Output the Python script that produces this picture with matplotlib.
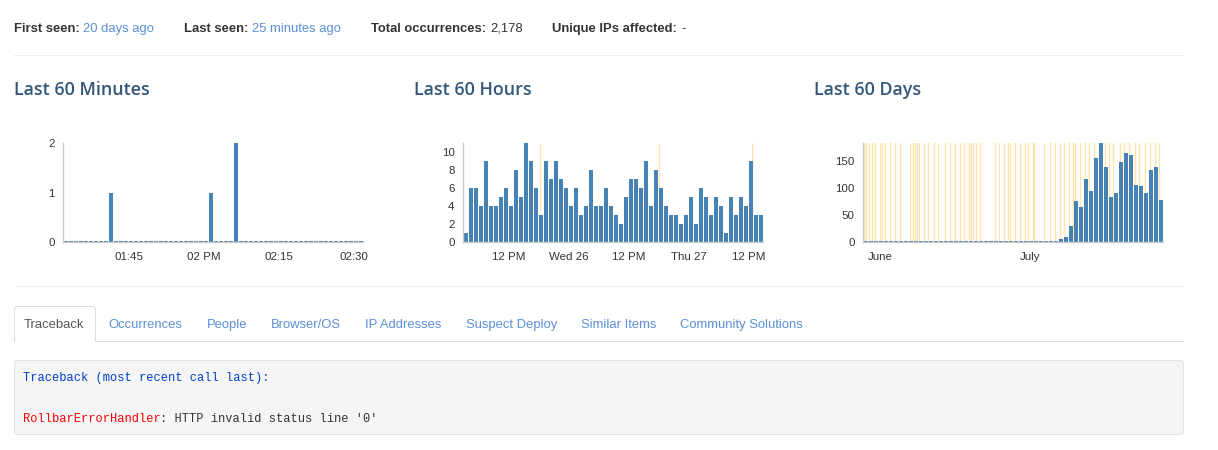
import matplotlib
matplotlib.use('Agg')
import matplotlib.pyplot as plt
from matplotlib.patches import FancyBboxPatch, Rectangle
from matplotlib.transforms import ScaledTranslation

W, H = 1218, 450
BLUE = '#4682b4'
LINK = '#5b8fd6'
DARK = '#333333'
HEAD = '#34567a'
AXIS = '#cccccc'
DEPLOY = '#ffe2a8'

# values per bar
minutes = [0] * 60
minutes[9] = 1
minutes[29] = 1
minutes[34] = 2

hours = [1, 6, 6, 4, 9, 4, 4, 5, 6, 4, 8, 5, 11, 9, 6, 3, 9, 7, 9, 7,
         6, 4, 6, 3, 4, 8, 4, 4, 6, 4, 3, 2, 5, 7, 7, 6, 9, 4, 8, 6,
         4, 3, 3, 2, 3, 5, 2, 6, 5, 3, 5, 4, 1, 5, 3, 5, 4, 9, 3, 3]

days = [0] * 39 + [6, 10, 30, 75, 64, 117, 95, 156, 184, 138, 84, 90, 147,
                   164, 160, 106, 104, 90, 134, 138, 77]

# deploy marks, in bar units
hour_deploys = [15.3, 39.1, 57.7]
day_deploys = [0.17, 0.43, 1.17, 1.77, 2.3, 3.3, 3.77, 4.37, 5.37, 6.37, 7.37,
               9.37, 9.83, 10.3, 10.77, 11.17, 12.17, 12.83, 14.17, 14.97,
               16.37, 17.37, 18.37, 19.3, 20.17, 21.03, 21.5, 21.97, 22.43,
               23.3, 26.37, 27.1, 28.17, 28.97, 29.37, 30.37, 31.37, 32.37,
               32.97, 33.97, 34.17, 36.17, 37.37, 38.37, 39.37, 40.17, 41.1,
               41.97, 42.37, 43.3, 44.37, 45.17, 46.17, 47.37, 48.37, 49.17,
               49.97, 51.37, 52.17, 53.17, 54.37, 55.17, 56.37, 57.37, 58.3,
               59.17, 59.97]

minute_ticks = [13.12, 28.12, 43.12, 58.12]
minute_labels = ['01:45', '02 PM', '02:15', '02:30']
hour_ticks = [9.12, 21.12, 33.12, 45.12, 57.12]
hour_labels = ['12 PM', 'Wed 26', '12 PM', 'Thu 27', '12 PM']
day_ticks = [3.3, 33.3]
day_labels = ['June', 'July']

titles = ['Last 60 Minutes', 'Last 60 Hours', 'Last 60 Days']
tabs = ['Occurrences', 'People', 'Browser/OS', 'IP Addresses', 'Suspect Deploy',
        'Similar Items', 'Community Solutions']
tab_x = [108.5, 206.5, 271, 365, 466, 581, 680]

plt.rcParams['font.family'] = ['Liberation Sans', 'DejaVu Sans']

fig = plt.figure(figsize=(W / 100, H / 100), dpi=100)

# page layer in pixel coordinates
page = fig.add_axes([0, 0, 1, 1])
page.set_xlim(0, W)
page.set_ylim(H, 0)
page.axis('off')


def px(size):
    return size * 0.72


def label(x, y, s, color=DARK, size=13, **kw):
    page.text(x, y, s, color=color, fontsize=px(size), va='baseline', **kw)


label(13.5, 32, 'First seen:', weight='bold')
label(83, 32, '20 days ago', color=LINK)
label(184, 32, 'Last seen:', weight='bold')
label(252, 32, '25 minutes ago', color=LINK)
label(371, 32, 'Total occurrences:', weight='bold')
label(490, 31.5, '2,178')
label(552, 32, 'Unique IPs affected:', weight='bold')
label(681, 32, '-')

page.plot([14, 1184], [55, 55], color='#eeeeee', lw=0.72)
page.plot([14, 1184], [286, 286], color='#eeeeee', lw=0.72)

for x, s in zip([13.6, 413.6, 813.6], titles):
    label(x, 95, s, color=HEAD, size=17.85, family='Open Sans', weight=600)


def draw_chart(left, values, ymax, yticks, xticks, xlabels, deploys=()):
    ax = fig.add_axes([left / W, 1 - 242 / H, 300 / W, 99 / H])
    ax.set_facecolor('none')
    xs = [i + 0.5 for i in range(len(values))]
    # empty buckets still show as a thin stub
    heights = [v if v > 0 else ymax / 99 for v in values]
    for d in deploys:
        ax.axvline(d, color=DEPLOY, lw=0.9, zorder=1)
    ax.bar(xs, heights, width=0.8, color=BLUE, zorder=3)
    ax.set_xlim(-0.1, 59.9)
    ax.set_ylim(0, ymax)
    ax.set_xticks(xticks)
    ax.set_xticklabels(xlabels, va='baseline')
    ax.set_yticks(yticks)
    for side in ['top', 'right']:
        ax.spines[side].set_visible(False)
    for side in ['left', 'bottom']:
        ax.spines[side].set_color(AXIS)
        ax.spines[side].set_linewidth(1)
        ax.spines[side].set_zorder(4)
    ax.tick_params(axis='both', length=0, labelsize=px(11.5), labelcolor=DARK)
    ax.tick_params(axis='x', pad=13)
    ax.tick_params(axis='y', pad=6)
    # y labels sit a touch below their tick
    nudge = ScaledTranslation(0, -0.35 / 100, fig.dpi_scale_trans)
    for t in ax.get_yticklabels():
        t.set_transform(t.get_transform() + nudge)
    return ax


draw_chart(63, minutes, 2, [0, 1, 2], minute_ticks, minute_labels)
draw_chart(463, hours, 11, [0, 2, 4, 6, 8, 10], hour_ticks, hour_labels, hour_deploys)
draw_chart(863, days, 183, [0, 50, 100, 150], day_ticks, day_labels, day_deploys)

# tabs
page.plot([14, 1184], [341, 341], color='#dddddd', lw=0.72)
page.add_patch(FancyBboxPatch((14.5, 306.5), 81, 40, boxstyle='round,pad=0,rounding_size=3',
                              fc='white', ec='#dddddd', lw=0.72, zorder=2))
page.add_patch(Rectangle((10, 341.5), 90, 8, fc='white', ec='none', zorder=3))
label(24, 328, 'Traceback', color='#555555', zorder=4)
for x, s in zip(tab_x, tabs):
    label(x, 328, s, color=LINK)

# code block
page.add_patch(FancyBboxPatch((14.5, 360.5), 1169, 74, boxstyle='round,pad=0,rounding_size=3',
                              fc='#f5f5f5', ec='#e3e3e3', lw=0.72))
label(23, 381.5, 'Traceback (most recent call last):', color='#0040d0', size=12, family='Liberation Mono')
label(23, 421.5, 'RollbarErrorHandler', color='#ff0000', size=12, family='Liberation Mono')
label(159.5, 421.5, ": HTTP invalid status line '0'", color=DARK, size=12, family='Liberation Mono')

fig.savefig('out.png', dpi=100)
